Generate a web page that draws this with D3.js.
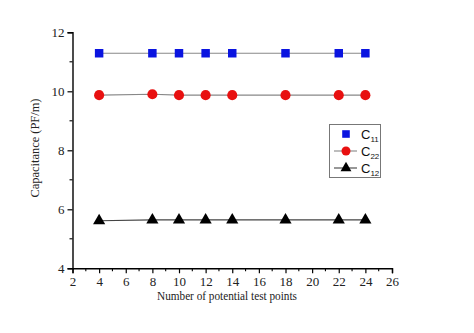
<!DOCTYPE html>
<html>
<head>
<meta charset="utf-8">
<script src="https://cdn.jsdelivr.net/npm/d3@7"></script>
<style>
  body { margin: 0; background: #fff; }
  svg { display: block; }
</style>
</head>
<body>
<svg id="chart" width="474" height="333"></svg>
<script>
// Capacitance per unit length vs. number of potential test points
const testPoints = [4, 8, 10, 12, 14, 18, 22, 24];
const c11 = [11.29, 11.29, 11.29, 11.29, 11.29, 11.29, 11.29, 11.29];
const c22 = [9.87, 9.90, 9.87, 9.87, 9.87, 9.87, 9.87, 9.87];
const c12 = [5.61, 5.64, 5.64, 5.64, 5.64, 5.64, 5.64, 5.64];
const xTicks = [2, 4, 6, 8, 10, 12, 14, 16, 18, 20, 22, 24, 26];
const yTicks = [4, 6, 8, 10, 12];

const svg = d3.select("#chart");
const margin = { left: 72.5, right: 82, top: 32.3, bottom: 64.7 };
const W = 474, H = 333;

const x = d3.scaleLinear().domain([2, 26]).range([margin.left, W - margin.right]);
const y = d3.scaleLinear().domain([4, 12]).range([H - margin.bottom, margin.top]);

const serif = "'Liberation Serif', 'Times New Roman', serif";

// axes with major and minor ticks
const xAxis = d3.axisBottom(x).tickValues(xTicks).tickFormat(d3.format("d")).tickSize(5).tickPadding(3);
const yAxis = d3.axisLeft(y).tickValues(yTicks).tickFormat(d3.format("d")).tickSize(5).tickPadding(3);

const gx = svg.append("g").attr("transform", `translate(0,${y(4)})`).call(xAxis);
const gy = svg.append("g").attr("transform", `translate(${x(2)},0)`).call(yAxis);

[gx, gy].forEach(g => {
  g.select(".domain").attr("stroke", "#000").attr("stroke-width", 1.4);
  g.selectAll(".tick line").attr("stroke", "#000").attr("stroke-width", 1.2);
  g.selectAll(".tick text").attr("font-family", serif).attr("font-size", 13).attr("fill", "#222");
});

const xMinor = d3.range(3, 26, 2);
const yMinor = d3.range(5, 12, 2);
svg.append("g").selectAll("line").data(xMinor).join("line")
  .attr("x1", d => x(d)).attr("x2", d => x(d))
  .attr("y1", y(4)).attr("y2", y(4) + 3)
  .attr("stroke", "#000").attr("stroke-width", 1.1);
svg.append("g").selectAll("line").data(yMinor).join("line")
  .attr("x1", x(2)).attr("x2", x(2) - 3)
  .attr("y1", d => y(d)).attr("y2", d => y(d))
  .attr("stroke", "#000").attr("stroke-width", 1.1);

// axis titles
svg.append("text")
  .attr("x", 227).attr("y", 300)
  .attr("text-anchor", "middle")
  .attr("font-family", serif).attr("font-size", 12).attr("fill", "#222")
  .attr("textLength", 140).attr("lengthAdjust", "spacingAndGlyphs")
  .text("Number of potential test points");

svg.append("text")
  .attr("transform", `translate(39,148) rotate(-90)`)
  .attr("text-anchor", "middle")
  .attr("font-family", serif).attr("font-size", 12.5).attr("fill", "#222")
  .attr("textLength", 99).attr("lengthAdjust", "spacingAndGlyphs")
  .text("Capacitance (PF/m)");

// series
const series = [
  { name: "11", values: c11, color: "#0a14e0", line: "#888", shape: d3.symbolSquare, size: 72 },
  { name: "22", values: c22, color: "#e81010", line: "#888", shape: d3.symbolCircle, size: 80 },
  { name: "12", values: c12, color: "#000", line: "#444", shape: d3.symbolTriangle, size: 64 }
];

const line = d3.line().x(d => x(d[0])).y(d => y(d[1]));

series.forEach(s => {
  const pts = testPoints.map((t, i) => [t, s.values[i]]);
  svg.append("path").datum(pts)
    .attr("d", line).attr("fill", "none")
    .attr("stroke", s.line).attr("stroke-width", 1.1);
  svg.append("g").selectAll("path").data(pts).join("path")
    .attr("transform", d => `translate(${x(d[0])},${y(d[1])})`)
    .attr("d", d3.symbol().type(s.shape).size(s.size)())
    .attr("fill", s.color);
});

// legend
const lg = svg.append("g");
lg.append("rect").attr("x", 329.5).attr("y", 124.5).attr("width", 51).attr("height", 53)
  .attr("fill", "#fff").attr("stroke", "#777").attr("stroke-width", 1);
series.forEach((s, i) => {
  const cy = 134 + i * 17;
  if (i > 0) {
    lg.append("line").attr("x1", 334).attr("x2", 357).attr("y1", cy).attr("y2", cy)
      .attr("stroke", s.line).attr("stroke-width", 1.1);
  }
  lg.append("path").attr("transform", `translate(346,${cy})`)
    .attr("d", d3.symbol().type(s.shape).size(s.size * 0.8)())
    .attr("fill", s.color);
  const t = lg.append("text").attr("x", 361).attr("y", cy + 5)
    .attr("font-family", "'Liberation Sans', Arial, sans-serif").attr("font-size", 13).attr("fill", "#111");
  t.append("tspan").text("C");
  t.append("tspan").attr("font-size", 8).attr("dy", 3).text(s.name);
});
</script>
</body>
</html>
